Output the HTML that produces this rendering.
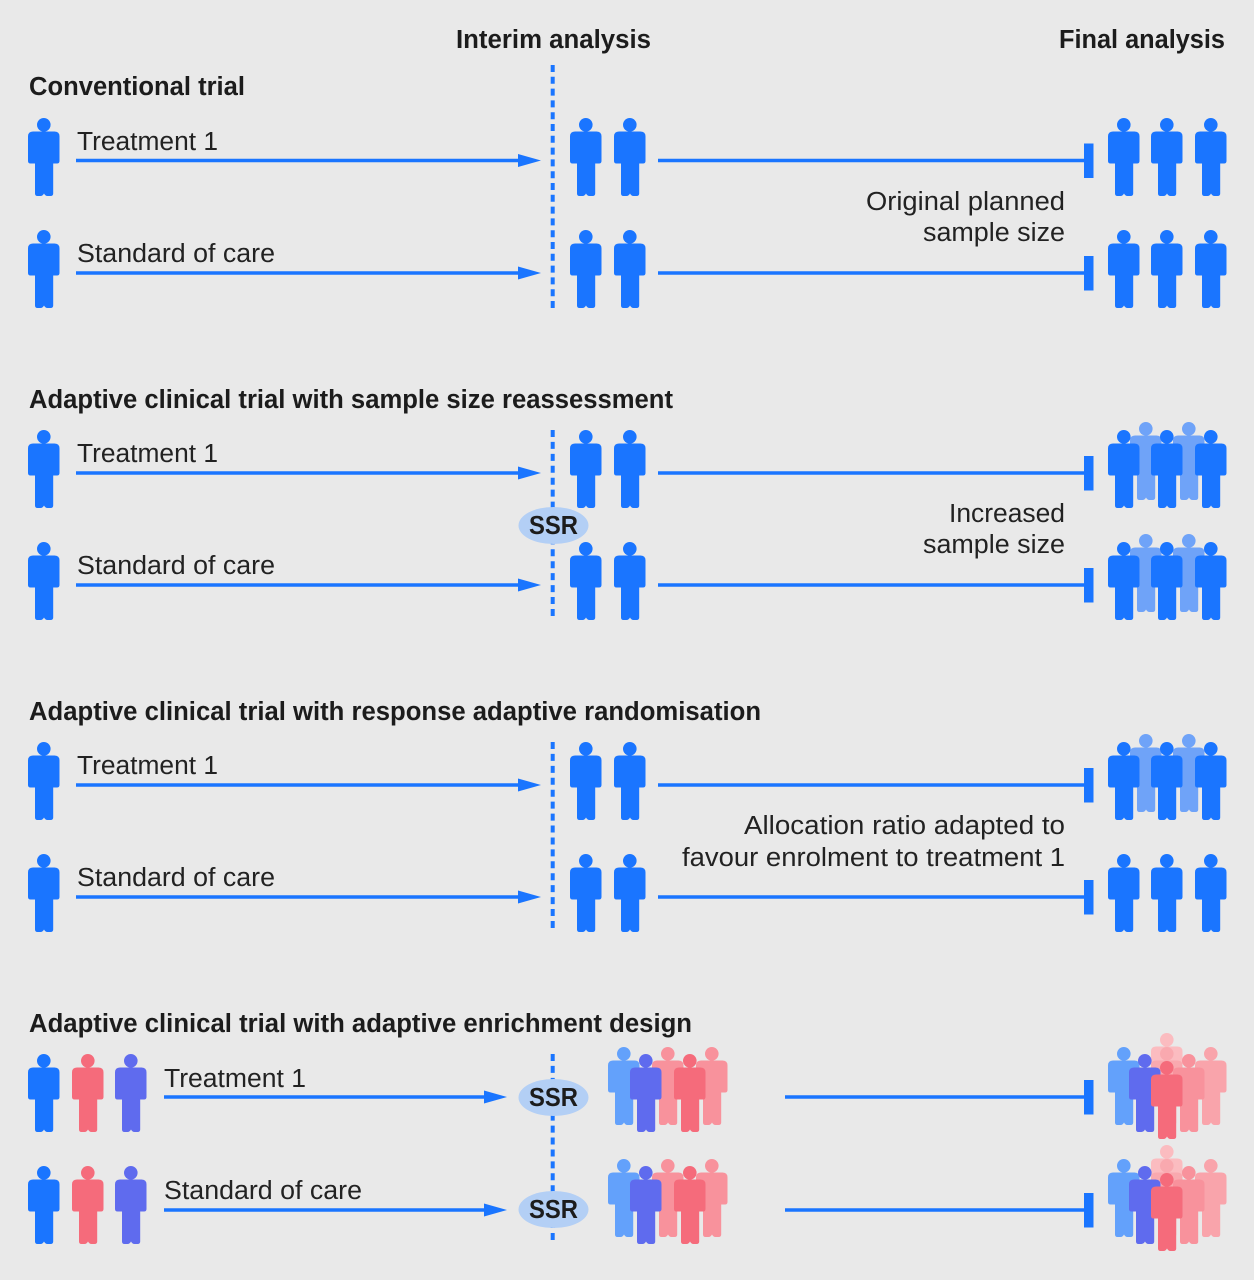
<!DOCTYPE html>
<html><head><meta charset="utf-8">
<style>
html,body{margin:0;padding:0;background:#e9e9e9;width:1254px;height:1280px;overflow:hidden}
svg{display:block}
text{font-family:"Liberation Sans",sans-serif;font-size:25.5px;fill:#222}
.b{font-weight:bold;font-size:25.5px;fill:#1c1c1c}
</style></head><body>
<svg xmlns="http://www.w3.org/2000/svg" width="1254" height="1280" viewBox="0 0 1254 1280">
<defs>
<g id="p">
<circle cx="15.8" cy="6.8" r="6.8"/>
<path d="M5 13.5H26.5Q31.5 13.5 31.5 18.5V43Q31.5 45.5 29 45.5H25.2V75.5Q25.2 78 22.5 78H19.5Q17.3 78 16 75.5Q14.7 78 12.5 78H9.5Q7 78 7 75.5V45.5H2.5Q0 45.5 0 43V18.5Q0 13.5 5 13.5Z"/>
</g>
<g id="row"><path d="M76 0H519" stroke="#1a75ff" stroke-width="3.6" fill="none"/><path d="M518 -6.5L541 0L518 6.5Z" fill="#1a75ff"/>
<path d="M658 0H1086" stroke="#1a75ff" stroke-width="3.6" fill="none"/><rect x="1084" y="-17" width="9.5" height="34.5" fill="#1a75ff"/></g>
<g id="row4"><path d="M164 0H486" stroke="#1a75ff" stroke-width="3.6" fill="none"/><path d="M484 -6.5L507 0L484 6.5Z" fill="#1a75ff"/>
<path d="M785 0H1086" stroke="#1a75ff" stroke-width="3.6" fill="none"/><rect x="1084" y="-17" width="9.5" height="34.5" fill="#1a75ff"/></g>
<g id="three"><use href="#p" x="1108" fill="#1a75ff"/><use href="#p" x="1151" fill="#1a75ff"/><use href="#p" x="1195" fill="#1a75ff"/></g>
<g id="five"><use href="#p" x="1130" y="-8" fill="#6fa3f8"/><use href="#p" x="1173" y="-8" fill="#6fa3f8"/><use href="#three"/></g>
<g id="two"><use href="#p" x="570" fill="#1a75ff"/><use href="#p" x="614" fill="#1a75ff"/></g>
<g id="one"><use href="#p" x="28" fill="#1a75ff"/></g>
<g id="tri"><use href="#p" x="28" fill="#1a75ff"/><use href="#p" x="72" fill="#f56b7b"/><use href="#p" x="115" fill="#5f6bee"/></g>
<g id="mid"><use href="#p" x="608" y="-7" fill="#63a1fb"/><use href="#p" x="652" y="-7" fill="#f8929c"/><use href="#p" x="696" y="-7" fill="#f8929c"/><use href="#p" x="630" fill="#5f6bee"/><use href="#p" x="674" fill="#f56b7b"/></g>
<g id="fin"><use href="#p" x="1151" y="-21" fill="#fbbcc0"/><use href="#p" x="1151" y="-7" fill="#f9a9af"/><use href="#p" x="1108" y="-7" fill="#63a1fb"/><use href="#p" x="1195" y="-7" fill="#f9a4ab"/><use href="#p" x="1173" fill="#f8929c"/><use href="#p" x="1129" fill="#5f6bee"/><use href="#p" x="1151" y="7" fill="#f56b7b"/></g>
</defs>

<text class="b" x="456" y="48" textLength="195" lengthAdjust="spacingAndGlyphs">Interim analysis</text>
<text class="b" x="1059" y="48" textLength="166" lengthAdjust="spacingAndGlyphs">Final analysis</text>
<text class="b" x="29" y="95" textLength="216" lengthAdjust="spacingAndGlyphs">Conventional trial</text>
<text class="b" x="29" y="408" textLength="644" lengthAdjust="spacingAndGlyphs">Adaptive clinical trial with sample size reassessment</text>
<text class="b" x="29" y="720" textLength="732" lengthAdjust="spacingAndGlyphs">Adaptive clinical trial with response adaptive randomisation</text>
<text class="b" x="29" y="1032" textLength="663" lengthAdjust="spacingAndGlyphs">Adaptive clinical trial with adaptive enrichment design</text>

<g stroke="#1a75ff" stroke-width="4" fill="none">
<path d="M552.7 65V308" stroke-dasharray="7 4.8"/>
<g stroke-dasharray="7 4.93">
<path d="M552.7 430V616"/><path d="M552.7 742V928"/><path d="M552.7 1054V1240"/>
</g>
</g>

<!-- Section 1 -->
<use href="#one" y="118"/><use href="#one" y="230"/>
<use href="#two" y="118"/><use href="#two" y="230"/>
<use href="#three" y="118"/><use href="#three" y="230"/>
<use href="#row" y="160.5"/><use href="#row" y="273"/>
<text x="77" y="150" textLength="141" lengthAdjust="spacingAndGlyphs">Treatment 1</text>
<text x="77" y="262" textLength="198" lengthAdjust="spacingAndGlyphs">Standard of care</text>
<text x="866" y="210" textLength="199" lengthAdjust="spacingAndGlyphs">Original planned</text>
<text x="923" y="241" textLength="142" lengthAdjust="spacingAndGlyphs">sample size</text>

<!-- Section 2 -->
<use href="#one" y="430"/><use href="#one" y="542"/>
<use href="#two" y="430"/><use href="#two" y="542"/>
<use href="#five" y="430"/><use href="#five" y="542"/>
<use href="#row" y="473"/><use href="#row" y="585"/>
<text x="77" y="462" textLength="141" lengthAdjust="spacingAndGlyphs">Treatment 1</text>
<text x="77" y="574" textLength="198" lengthAdjust="spacingAndGlyphs">Standard of care</text>
<text x="949" y="522" textLength="116" lengthAdjust="spacingAndGlyphs">Increased</text>
<text x="923" y="553" textLength="142" lengthAdjust="spacingAndGlyphs">sample size</text>
<ellipse cx="553.5" cy="525.5" rx="35" ry="18.5" fill="#b3cff5"/>
<text class="b" x="529" y="534" textLength="49" lengthAdjust="spacingAndGlyphs">SSR</text>

<!-- Section 3 -->
<use href="#one" y="742"/><use href="#one" y="854"/>
<use href="#two" y="742"/><use href="#two" y="854"/>
<use href="#five" y="742"/><use href="#three" y="854"/>
<use href="#row" y="785"/><use href="#row" y="897"/>
<text x="77" y="774" textLength="141" lengthAdjust="spacingAndGlyphs">Treatment 1</text>
<text x="77" y="886" textLength="198" lengthAdjust="spacingAndGlyphs">Standard of care</text>
<text x="744" y="834" textLength="321" lengthAdjust="spacingAndGlyphs">Allocation ratio adapted to</text>
<text x="682" y="866" textLength="383" lengthAdjust="spacingAndGlyphs">favour enrolment to treatment 1</text>

<!-- Section 4 -->
<use href="#tri" y="1054"/><use href="#tri" y="1166"/>
<use href="#mid" y="1054"/><use href="#mid" y="1166"/>
<use href="#fin" y="1054"/><use href="#fin" y="1166"/>
<use href="#row4" y="1097"/><use href="#row4" y="1210"/>
<text x="164" y="1087" textLength="142" lengthAdjust="spacingAndGlyphs">Treatment 1</text>
<text x="164" y="1199" textLength="198" lengthAdjust="spacingAndGlyphs">Standard of care</text>
<ellipse cx="553.5" cy="1097.5" rx="35" ry="18.5" fill="#b3cff5"/>
<text class="b" x="529" y="1106" textLength="49" lengthAdjust="spacingAndGlyphs">SSR</text>
<ellipse cx="553.5" cy="1209.5" rx="35" ry="18.5" fill="#b3cff5"/>
<text class="b" x="529" y="1218" textLength="49" lengthAdjust="spacingAndGlyphs">SSR</text>
</svg>
</body></html>
